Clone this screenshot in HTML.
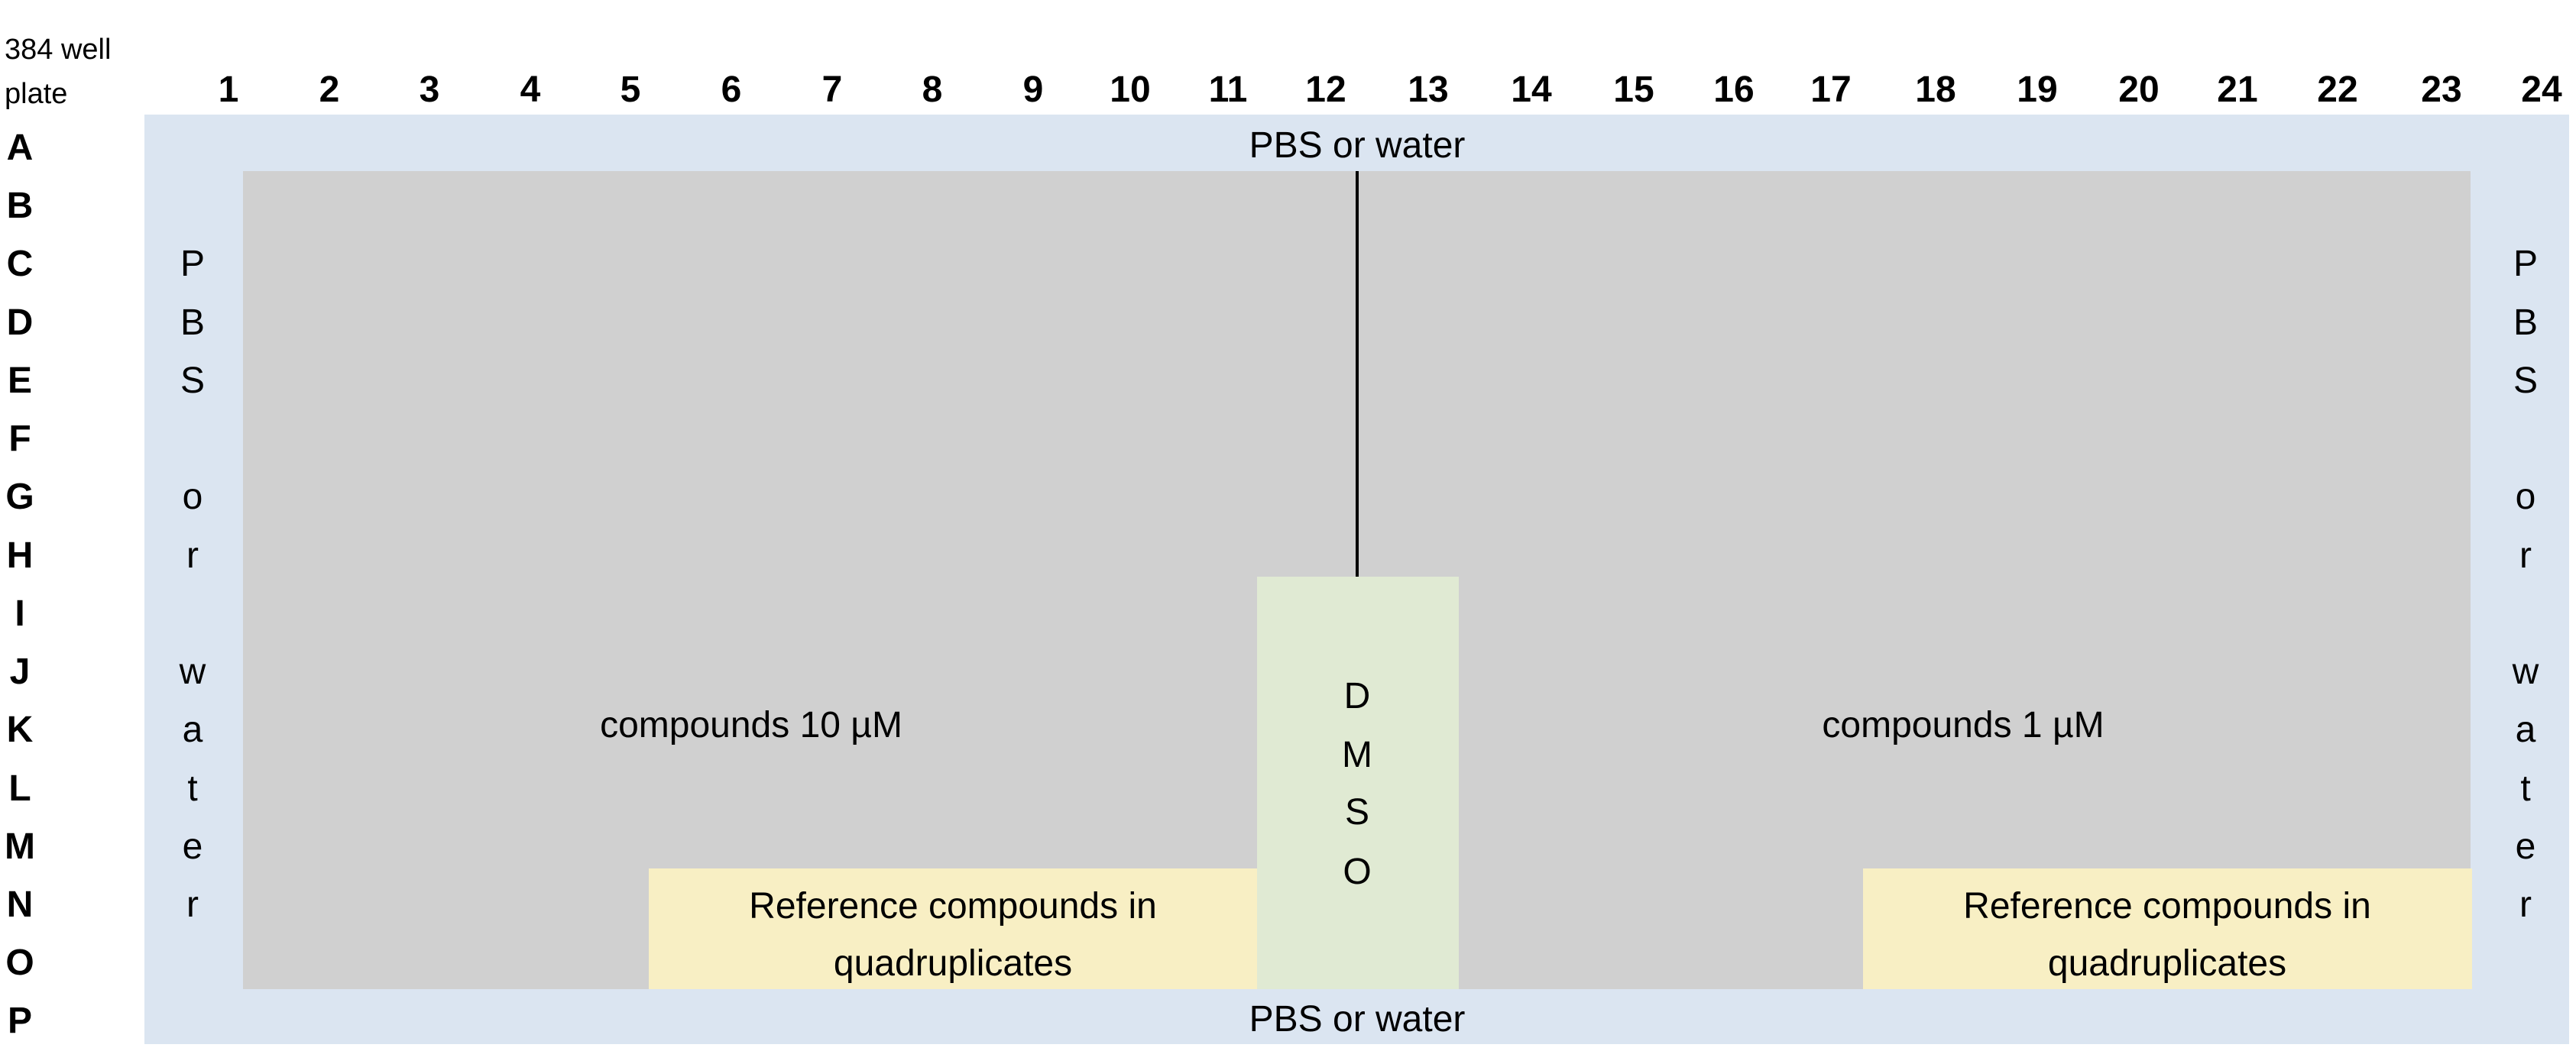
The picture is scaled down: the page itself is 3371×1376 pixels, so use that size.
<!DOCTYPE html>
<html><head><meta charset="utf-8"><style>
html,body{margin:0;padding:0;background:#fff;}
body{width:3371px;height:1376px;position:relative;overflow:hidden;font-family:"Liberation Sans",sans-serif;color:#000;}
.r{position:absolute;}
.c{position:absolute;transform:translate(-50%,-50%);white-space:nowrap;line-height:1;}
.b{font-weight:bold;font-size:48px;}
.n{font-size:48px;}
</style></head><body>
<div class="r" style="left:189px;top:150px;width:3173px;height:1217px;background:#dbe5f1;"></div>
<div class="r" style="left:318px;top:224px;width:2915px;height:1071px;background:#d0d0d0;"></div>
<div class="r" style="left:1645px;top:755px;width:264px;height:540px;background:#e0ead3;"></div>
<div class="r" style="left:849px;top:1137px;width:796px;height:158px;background:#f8efc4;"></div>
<div class="r" style="left:2438px;top:1137px;width:797px;height:158px;background:#f8efc4;"></div>
<div class="r" style="left:1774px;top:224px;width:4px;height:531px;background:#000;"></div>

<div class="r" style="left:6px;top:36px;font-size:38px;line-height:58px;">384 well<br>plate</div>

<div class="c b" style="left:299px;top:118px">1</div>
<div class="c b" style="left:431px;top:118px">2</div>
<div class="c b" style="left:562px;top:118px">3</div>
<div class="c b" style="left:694px;top:118px">4</div>
<div class="c b" style="left:825px;top:118px">5</div>
<div class="c b" style="left:957px;top:118px">6</div>
<div class="c b" style="left:1089px;top:118px">7</div>
<div class="c b" style="left:1220px;top:118px">8</div>
<div class="c b" style="left:1352px;top:118px">9</div>
<div class="c b" style="left:1479px;top:118px">10</div>
<div class="c b" style="left:1607px;top:118px">11</div>
<div class="c b" style="left:1735px;top:118px">12</div>
<div class="c b" style="left:1869px;top:118px">13</div>
<div class="c b" style="left:2004px;top:118px">14</div>
<div class="c b" style="left:2138px;top:118px">15</div>
<div class="c b" style="left:2269px;top:118px">16</div>
<div class="c b" style="left:2396px;top:118px">17</div>
<div class="c b" style="left:2533px;top:118px">18</div>
<div class="c b" style="left:2666px;top:118px">19</div>
<div class="c b" style="left:2799px;top:118px">20</div>
<div class="c b" style="left:2928px;top:118px">21</div>
<div class="c b" style="left:3059px;top:118px">22</div>
<div class="c b" style="left:3195px;top:118px">23</div>
<div class="c b" style="left:3326px;top:118px">24</div>

<div class="c b" style="left:26px;top:194px">A</div>
<div class="c b" style="left:26px;top:270px">B</div>
<div class="c b" style="left:26px;top:346px">C</div>
<div class="c b" style="left:26px;top:423px">D</div>
<div class="c b" style="left:26px;top:499px">E</div>
<div class="c b" style="left:26px;top:575px">F</div>
<div class="c b" style="left:26px;top:651px">G</div>
<div class="c b" style="left:26px;top:728px">H</div>
<div class="c b" style="left:26px;top:804px">I</div>
<div class="c b" style="left:26px;top:880px">J</div>
<div class="c b" style="left:26px;top:956px">K</div>
<div class="c b" style="left:26px;top:1033px">L</div>
<div class="c b" style="left:26px;top:1109px">M</div>
<div class="c b" style="left:26px;top:1185px">N</div>
<div class="c b" style="left:26px;top:1261px">O</div>
<div class="c b" style="left:26px;top:1337px">P</div>

<div class="c n" style="left:1776px;top:191px">PBS or water</div>
<div class="c n" style="left:1776px;top:1335px">PBS or water</div>

<div class="c n" style="left:252px;top:346px">P</div>
<div class="c n" style="left:252px;top:423px">B</div>
<div class="c n" style="left:252px;top:499px">S</div>
<div class="c n" style="left:252px;top:651px">o</div>
<div class="c n" style="left:252px;top:728px">r</div>
<div class="c n" style="left:252px;top:880px">w</div>
<div class="c n" style="left:252px;top:956px">a</div>
<div class="c n" style="left:252px;top:1033px">t</div>
<div class="c n" style="left:252px;top:1109px">e</div>
<div class="c n" style="left:252px;top:1185px">r</div>

<div class="c n" style="left:3305px;top:346px">P</div>
<div class="c n" style="left:3305px;top:423px">B</div>
<div class="c n" style="left:3305px;top:499px">S</div>
<div class="c n" style="left:3305px;top:651px">o</div>
<div class="c n" style="left:3305px;top:728px">r</div>
<div class="c n" style="left:3305px;top:880px">w</div>
<div class="c n" style="left:3305px;top:956px">a</div>
<div class="c n" style="left:3305px;top:1033px">t</div>
<div class="c n" style="left:3305px;top:1109px">e</div>
<div class="c n" style="left:3305px;top:1185px">r</div>

<div class="c n" style="left:983px;top:950px">compounds 10 µM</div>
<div class="c n" style="left:2569px;top:950px">compounds 1 µM</div>

<div class="c n" style="left:1776px;top:912px">D</div>
<div class="c n" style="left:1776px;top:989px">M</div>
<div class="c n" style="left:1776px;top:1064px">S</div>
<div class="c n" style="left:1776px;top:1142px">O</div>

<div class="c n" style="left:1247px;top:1187px">Reference compounds in</div>
<div class="c n" style="left:1247px;top:1262px">quadruplicates</div>
<div class="c n" style="left:2836px;top:1187px">Reference compounds in</div>
<div class="c n" style="left:2836px;top:1262px">quadruplicates</div>
</body></html>
